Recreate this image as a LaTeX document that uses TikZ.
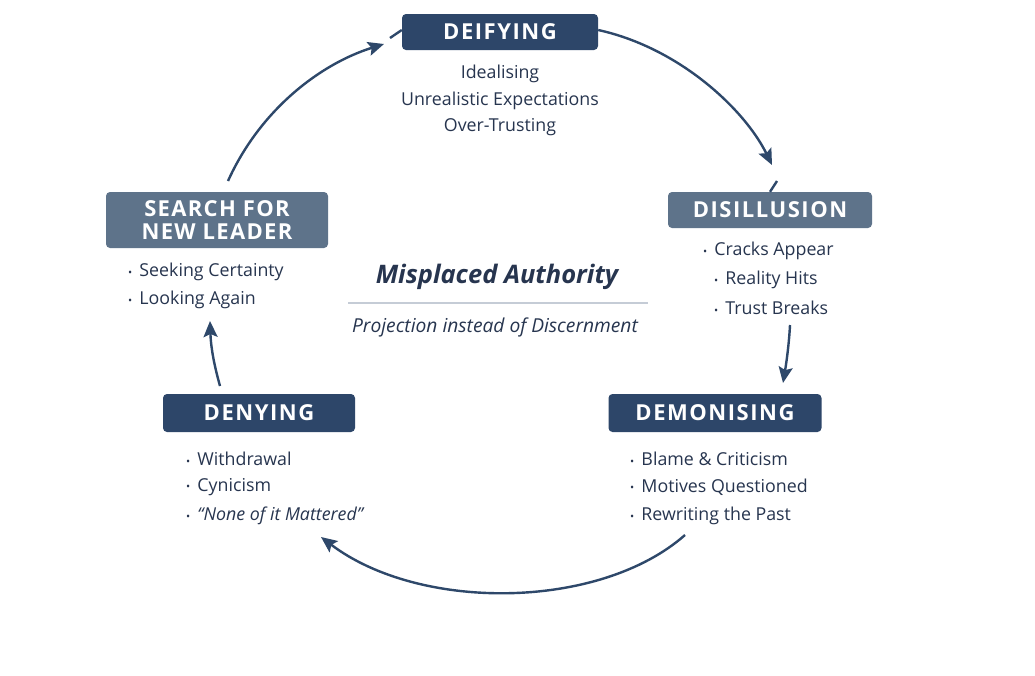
\documentclass[tikz,border=0pt]{standalone}
\usepackage{fontspec}
\setmainfont{Open Sans}
\usetikzlibrary{arrows.meta}
\definecolor{navy}{HTML}{2D4669}
\definecolor{slate}{HTML}{5E738A}
\definecolor{ink}{HTML}{27354F}
\definecolor{arrowc}{HTML}{2E486A}
\definecolor{rulec}{HTML}{C5CCD6}
\newcommand{\bul}{{\fontsize{11}{11}\selectfont\raisebox{0.1ex}{\textbullet}}\hspace{0.4em}}
\begin{document}
\begin{tikzpicture}[x=1pt,y=-1pt,
  banner/.style={rounded corners=4pt, inner sep=0pt, text=white, font=\fontsize{22}{23}\selectfont\bfseries, align=center},
  navyb/.style={banner, fill=navy},
  slateb/.style={banner, fill=slate},
  item/.style={anchor=west, text=ink, font=\fontsize{17.8}{19}\selectfont, inner sep=0pt},
  citem/.style={text=ink, font=\fontsize{17.8}{19}\selectfont, inner sep=0pt},
  flow/.style={draw=arrowc, line width=2.4pt, -{Stealth[length=16pt,width=14pt,inset=3pt]}},
  seg/.style={draw=arrowc, line width=2.4pt},
]
\useasboundingbox[fill=white] (0,0) rectangle (1035,675);

% banners
\node[navyb, minimum width=196pt, minimum height=36pt] (deify) at (500,32) {\addfontfeatures{LetterSpace=7}DEIFYING};
\node[slateb, minimum width=204pt, minimum height=36pt] (disill) at (770,210) {\addfontfeatures{LetterSpace=7}DISILLUSION};
\node[navyb, minimum width=213pt, minimum height=38pt] (demon) at (715,413) {\addfontfeatures{LetterSpace=7}DEMONISING};
\node[navyb, minimum width=192pt, minimum height=38pt] (deny) at (259,413) {\addfontfeatures{LetterSpace=7}DENYING};
\node[slateb, minimum width=222pt, minimum height=56pt] (search) at (217,220) {\addfontfeatures{LetterSpace=6}SEARCH FOR\\\addfontfeatures{LetterSpace=6}NEW LEADER};

% deifying items
\node[citem] (d1) at (500,74) {Idealising};
\node[citem] (d2) at (500,101) {Unrealistic Expectations};
\node[citem] (d3) at (500,127) {Over-Trusting};

% disillusion items
\node[item] (s1) at (703,251) {\bul Cracks Appear};
\node[item] (s2) at (714,280) {\bul Reality Hits};
\node[item] (s3) at (714,308) {\bul Trust Breaks};

% demonising items
\node[item] (m1) at (630,459) {\bul Blame \& Criticism};
\node[item] (m2) at (630,487) {\bul Motives Questioned};
\node[item] (m3) at (630,516) {\bul Rewriting the Past};

% denying items
\node[item] (n1) at (186,459) {\bul Withdrawal};
\node[item] (n2) at (186,487) {\bul Cynicism};
\node[item] (n3) at (186,516) {\bul \textit{“None of it Mattered”}};

% search items
\node[item] (r1) at (128,272) {\bul Seeking Certainty};
\node[item] (r2) at (128,300) {\bul Looking Again};

% centre
\node[text=ink, font=\fontsize{25.5}{27}\selectfont\bfseries\itshape, inner sep=0pt] (title) at (497,277) {Misplaced Authority};
\coordinate (rl) at (348,303);
\coordinate (rr) at (648,303);
\draw[rulec, line width=1.2pt] (rl) -- (rr);
\node[text=ink, font=\fontsize{19.2}{20}\selectfont\itshape, inner sep=0pt] (sub) at (495,327) {Projection instead of Discernment};

% connectors
\coordinate (a1s) at (deify.east);
\coordinate (a1e) at (772,165);
\draw[flow] ([yshift=2pt]a1s) .. controls (680,48) and (745,110) .. (a1e);
\coordinate (t1) at (777,181);
\draw[seg] (t1) -- (disill.north);

\coordinate (a2s) at (790,325);
\coordinate (a2e) at (783,383);
\draw[flow] (a2s) .. controls (789,345) and (786,365) .. (a2e);

\coordinate (a3s) at (685,535);
\coordinate (a3e) at (321,537);
\draw[flow] (a3s) .. controls (600,610) and (420,612) .. (a3e);

\coordinate (a4s) at (220,386);
\coordinate (a4e) at (210,321);
\draw[flow] (a4s) .. controls (215,368) and (211,350) .. (a4e);

\coordinate (a5s) at (228,181);
\coordinate (a5e) at (384,44);
\draw[flow] (a5s) .. controls (260,110) and (320,64) .. (a5e);
\coordinate (t5) at (390,38);
\draw[seg] (t5) -- ([yshift=2pt]deify.west);
\end{tikzpicture}
\end{document}
